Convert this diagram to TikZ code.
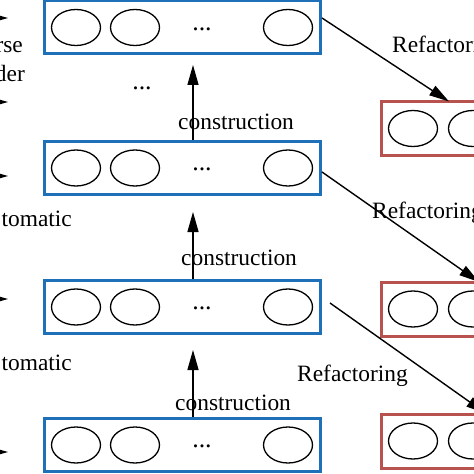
\documentclass[tikz,border=0pt]{standalone}
\usepackage{fontspec}
\setmainfont{Liberation Serif}
\usetikzlibrary{arrows.meta,shapes.geometric}
\definecolor{boxblue}{RGB}{30,112,184}
\definecolor{boxred}{RGB}{184,82,78}
\begin{document}
\begin{tikzpicture}[x=1bp,y=-1bp,
  bluebox/.style={draw=boxblue, line width=3bp, minimum width=275.5bp, minimum height=53bp, inner sep=0pt},
  redbox/.style={draw=boxred, line width=3bp, minimum width=200bp, minimum height=54bp, inner sep=0pt},
  cell/.style={draw, ellipse, line width=1.3bp, minimum width=49bp, minimum height=36bp, inner sep=0pt},
  arr/.style={line width=1.4bp, -{Triangle[length=20bp,width=11bp]}},
  lbl/.style={font=\fontsize{23.5}{28}\selectfont, inner sep=0pt},
  dots/.style={font=\fontsize{26}{28}\selectfont, inner sep=0pt, anchor=center},
]
\useasboundingbox (0,0) rectangle (474,474);
\clip (0,0) rectangle (474,474);
\fill[white] (0,0) rectangle (474,474);

% blue boxes
\foreach \n/\y in {b1/27.5, b2/168, b3/307, b4/445}{
  \node[bluebox] (\n) at (182.25,\y) {};
  \node[cell] (\n c1) at (76,\y) {};
  \node[cell] (\n c2) at (135,\y) {};
  \node[cell] (\n c3) at (288,\y) {};
  \node[dots] (\n d) at (202,\y+1.5) {...};
}

% red boxes
\foreach \n/\y in {r1/128.5, r2/309, r3/441}{
  \node[redbox] (\n) at (481,\y) {};
  \node[cell] (\n c1) at (413,\y) {};
  \node[cell] (\n c2) at (473,\y) {};
}

% middle dots
\node[dots] (mdots) at (142,88) {...};

% vertical construction arrows
\coordinate (t1) at (193,65);
\coordinate (t2) at (193,212);
\coordinate (t3) at (193,350);
\draw[arr] (b2.north -| t1) -- (t1);
\draw[arr] (b3.north -| t2) -- (t2);
\draw[arr] (b4.north -| t3) -- (t3);
\node[lbl, anchor=base west] (c1) at (178,130) {construction};
\node[lbl, anchor=base west] (c2) at (181,265) {construction};
\node[lbl, anchor=base west] (c3) at (175,410) {construction};

% refactoring arrows
\coordinate (s1) at (322,18);
\coordinate (e1) at (449,101.5);
\coordinate (s2) at (322,172);
\coordinate (e2) at (479,282);
\coordinate (s3) at (330,303);
\coordinate (e3) at (486,413.5);
\draw[arr] (s1) -- (e1);
\draw[arr] (s2) -- (e2);
\draw[arr] (s3) -- (e3);
\node[lbl, anchor=base west] (f1) at (392,53) {Refactoring};
\node[lbl, anchor=base west] (f2) at (372,219) {Refactoring};
\node[lbl, anchor=base west] (f3) at (297,381) {Refactoring};

% left side
\node[lbl, anchor=base east] (l1) at (23,53) {rse};
\node[lbl, anchor=base east] (l2) at (25,82) {der};
\node[lbl, anchor=base east] (l3) at (72,227) {tomatic};
\node[lbl, anchor=base east] (l4) at (72,370) {tomatic};
\foreach \i/\y in {1/18, 2/102, 3/176, 4/299, 5/452}{
  \coordinate (la\i) at (-40,\y);
  \coordinate (lb\i) at (8,\y);
  \draw[arr] (la\i) -- (lb\i);
}
\end{tikzpicture}
\end{document}
